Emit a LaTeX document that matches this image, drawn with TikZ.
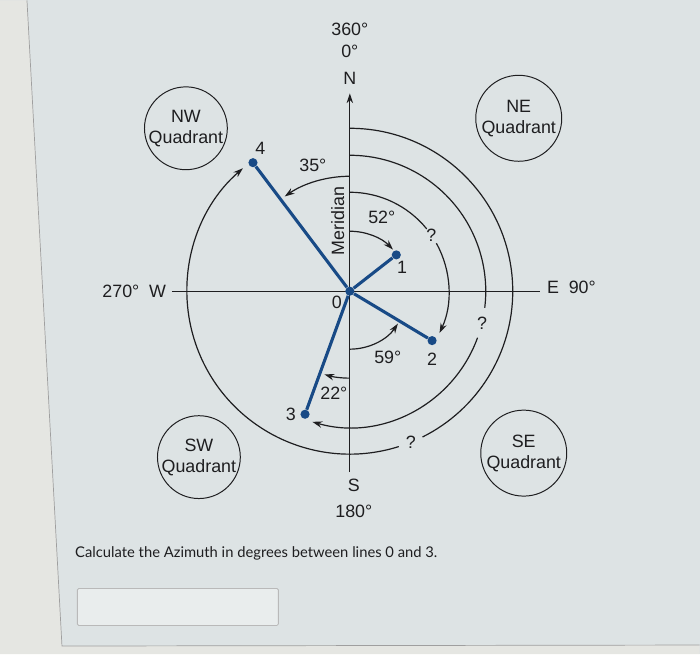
\documentclass[tikz,border=0pt]{standalone}
\usepackage{fontspec}
\setmainfont{Liberation Sans}
\newfontfamily\questionfont{Lato}
\usepackage{tikz}
\usetikzlibrary{positioning, arrows.meta}

\definecolor{screen}{RGB}{221,227,228}
\definecolor{margin}{RGB}{229,230,226}
\definecolor{rayblue}{RGB}{24,74,134}
\definecolor{ink}{RGB}{30,30,32}

\tikzset{
  lbl/.style={font=\fontsize{12.7}{14}\selectfont, text=ink, inner sep=1pt},
  quad/.style={draw=ink, line width=0.7pt, circle, minimum size=2.05cm, align=center,
               inner sep=0pt, font=\fontsize{12.7}{15}\selectfont, text=ink},
  ray/.style={draw=rayblue, line width=2.2pt},
  dot/.style={circle, fill=rayblue, inner sep=0pt, minimum size=6.5pt},
  sweep/.style={draw=ink, line width=0.85pt},
  tip/.style={-{Stealth[length=7pt,width=4.6pt]}}
}

\begin{document}
\begin{tikzpicture}
	[x=0.025cm, y=0.025cm]
   % screen
   \fill[screen] (-350,-363) rectangle (350,291);
   \fill[margin] (-350,-363) -- (-350,291) -- (-323,291) -- (-288,-355) -- (350,-354) -- (350,-363) -- cycle;
   \draw[gray!75, line width=0.5pt] (-323,291) -- (-288,-355) -- (350,-354);
   \useasboundingbox (-350,-363) rectangle (350,291);

   % axes
   \coordinate (o) at (0,0);
   \coordinate (n_end) at (0,198);
   \coordinate (s_end) at (0,-181);
   \coordinate (w_end) at (-178,0);
   \coordinate (e_end) at (190,0);
   \draw[sweep, tip] (s_end) -- (n_end);
   \draw[sweep] (w_end) -- (e_end);

   \node[lbl] (north) at (0,213) {N};
   \node[lbl, above=8pt of north] (deg_0) {0°};
   \node[lbl, above=4pt of deg_0] (deg_360) {360°};
   \node[lbl] (south) at (4,-194) {S};
   \node[lbl, below=7pt of south] (deg_180) {180°};
   \node[lbl, left=3pt of w_end] (west) {270°\hspace{0.55em}W};
   \node[lbl, right=4pt of e_end, yshift=3pt] (east) {E\hspace{0.55em}90°};
   \node[lbl, rotate=90] (meridian) at (-12,70) {Meridian};

   % quadrants
   \node[quad] (q_nw) at (-164,163) {NW\\Quadrant};
   \node[quad, minimum size=2.15cm] (q_ne) at (169,173) {NE\\Quadrant};
   \node[quad] (q_sw) at (-151,-166) {SW\\Quadrant};
   \node[quad, minimum size=2.15cm] (q_se) at (174,-162) {SE\\Quadrant};

   % lines
   \node[dot] (p_0) at (o) {};
   \node[dot] (p_1) at (38:59) {};
   \node[dot] (p_2) at (-31:96) {};
   \node[dot] (p_3) at (-110:131) {};
   \node[dot] (p_4) at (127:161) {};
   \foreach \i in {1,...,4}
     \draw[ray] (p_0) -- (p_\i);
   \node[lbl] (n_0) at (-13,-11) {0};
   \node[lbl, below right=1pt and -3pt of p_1] (n_1) {1};
   \node[lbl, below=4pt of p_2] (n_2) {2};
   \node[lbl, left=2pt of p_3] (n_3) {3};
   \node[lbl, above right=2pt and -2pt of p_4] (n_4) {4};

   % bearings
   \draw[sweep, tip] (90:60) arc[start angle=90, end angle=44, radius=60];
   \node[lbl] (a_52) at (32,74) {52°};
   \draw[sweep, tip] (90:115) arc[start angle=90, end angle=124.5, radius=115];
   \node[lbl] (a_35) at (-37,126) {35°};
   \draw[sweep, tip] (-90:58) arc[start angle=-90, end angle=-34, radius=58];
   \node[lbl] (a_59) at (38,-66) {59°};
   \draw[sweep, tip] (-90:87) arc[start angle=-90, end angle=-107, radius=87];
   \node[lbl] (a_22) at (-16,-102) {22°};

   % azimuths
   \draw[sweep] (90:99) arc[start angle=90, end angle=39, radius=99];
   \node[lbl] (z_2) at (34.5:99) {?};
   \draw[sweep, tip] (29:99) arc[start angle=29, end angle=-25, radius=99];
   \draw[sweep] (90:136) arc[start angle=90, end angle=-7, radius=136];
   \node[lbl] (z_3) at (-13.5:136) {?};
   \draw[sweep, tip] (-20:136) arc[start angle=-20, end angle=-106, radius=136];
   \draw[sweep] (90:163) arc[start angle=90, end angle=-63.5, radius=163];
   \node[lbl] (z_4) at (-68:163) {?};
   \draw[sweep, tip] (-72.5:163) arc[start angle=-72.5, end angle=-229, radius=163];

   % question
   \node[anchor=west, text=ink, inner sep=0pt, font=\questionfont\fontsize{10.5}{12}\selectfont]
     (question) at (-275,-262) {Calculate the Azimuth in degrees between lines 0 and 3.};
   \node[draw=gray!55, line width=0.6pt, rounded corners=1pt, fill=white!35!screen,
     minimum width=5.025cm, minimum height=0.925cm, anchor=north west] (answer) at (-273,-297) {};
\end{tikzpicture}
\end{document}
